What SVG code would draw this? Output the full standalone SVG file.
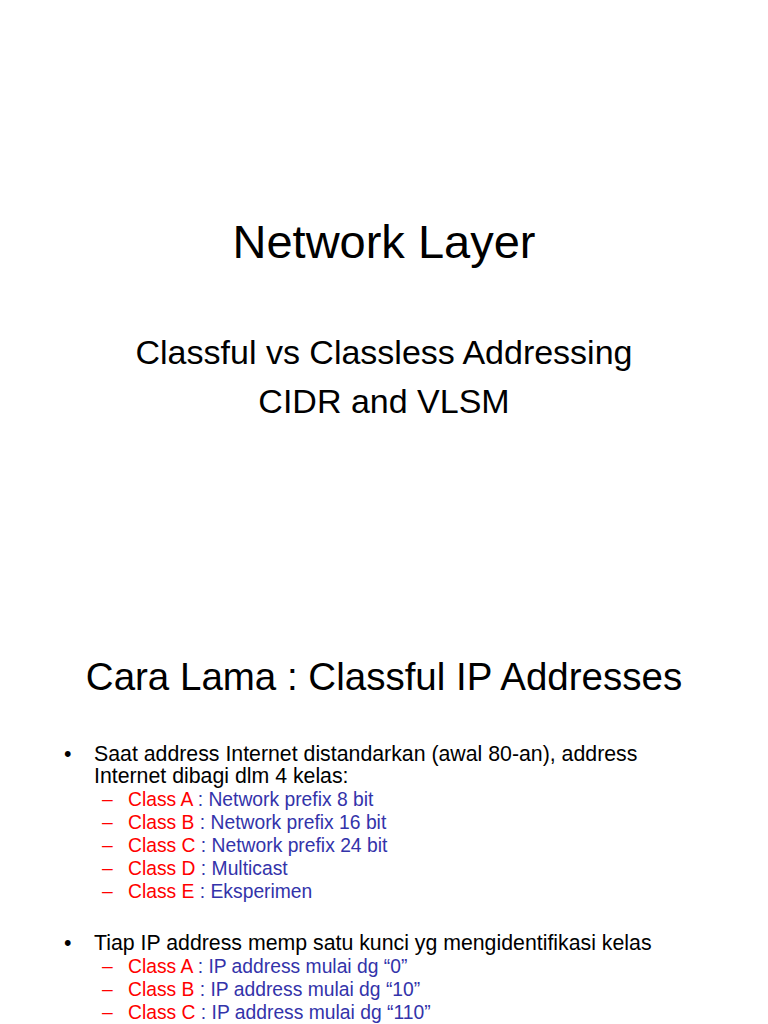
<svg xmlns="http://www.w3.org/2000/svg" width="768" height="1024" viewBox="0 0 768 1024">
<style>
text{font-family:"Liberation Sans",Arial,sans-serif;fill:#000}
.t{font-size:47px;text-anchor:middle}
.s{font-size:34px;text-anchor:middle}
.h{font-size:38.5px;text-anchor:middle}
.b{font-size:21.3px}
.i{font-size:19.3px}
.r{fill:#ff0000}
.u{fill:#3333aa}
</style>
<rect width="768" height="1024" fill="#fff"/>
<text class="t" x="384" y="258">Network Layer</text>
<text class="s" x="384" y="364">Classful vs Classless Addressing</text>
<text class="s" x="384" y="413">CIDR and VLSM</text>
<text class="h" x="384" y="690">Cara Lama : Classful IP Addresses</text>
<text class="b" x="64" y="761">•</text>
<text class="b" x="94" y="761">Saat address Internet distandarkan (awal 80-an), address</text>
<text class="b" x="94" y="783">Internet dibagi dlm 4 kelas:</text>
<g class="i">
<text class="i r" x="102" y="806">–</text><text class="i" x="128" y="806"><tspan class="r">Class A </tspan><tspan class="u">: Network prefix 8 bit</tspan></text>
<text class="i r" x="102" y="829">–</text><text class="i" x="128" y="829"><tspan class="r">Class B </tspan><tspan class="u">: Network prefix 16 bit</tspan></text>
<text class="i r" x="102" y="852">–</text><text class="i" x="128" y="852"><tspan class="r">Class C </tspan><tspan class="u">: Network prefix 24 bit</tspan></text>
<text class="i r" x="102" y="875">–</text><text class="i" x="128" y="875"><tspan class="r">Class D </tspan><tspan class="u">: Multicast</tspan></text>
<text class="i r" x="102" y="898">–</text><text class="i" x="128" y="898"><tspan class="r">Class E </tspan><tspan class="u">: Eksperimen</tspan></text>
</g>
<text class="b" x="64" y="950">•</text>
<text class="b" x="94" y="950">Tiap IP address memp satu kunci yg mengidentifikasi kelas</text>
<text class="i r" x="102" y="973">–</text><text class="i" x="128" y="973"><tspan class="r">Class A </tspan><tspan class="u">: IP address mulai dg “0”</tspan></text>
<text class="i r" x="102" y="996">–</text><text class="i" x="128" y="996"><tspan class="r">Class B </tspan><tspan class="u">: IP address mulai dg “10”</tspan></text>
<text class="i r" x="102" y="1019">–</text><text class="i" x="128" y="1019"><tspan class="r">Class C </tspan><tspan class="u">: IP address mulai dg “110”</tspan></text>
</svg>
